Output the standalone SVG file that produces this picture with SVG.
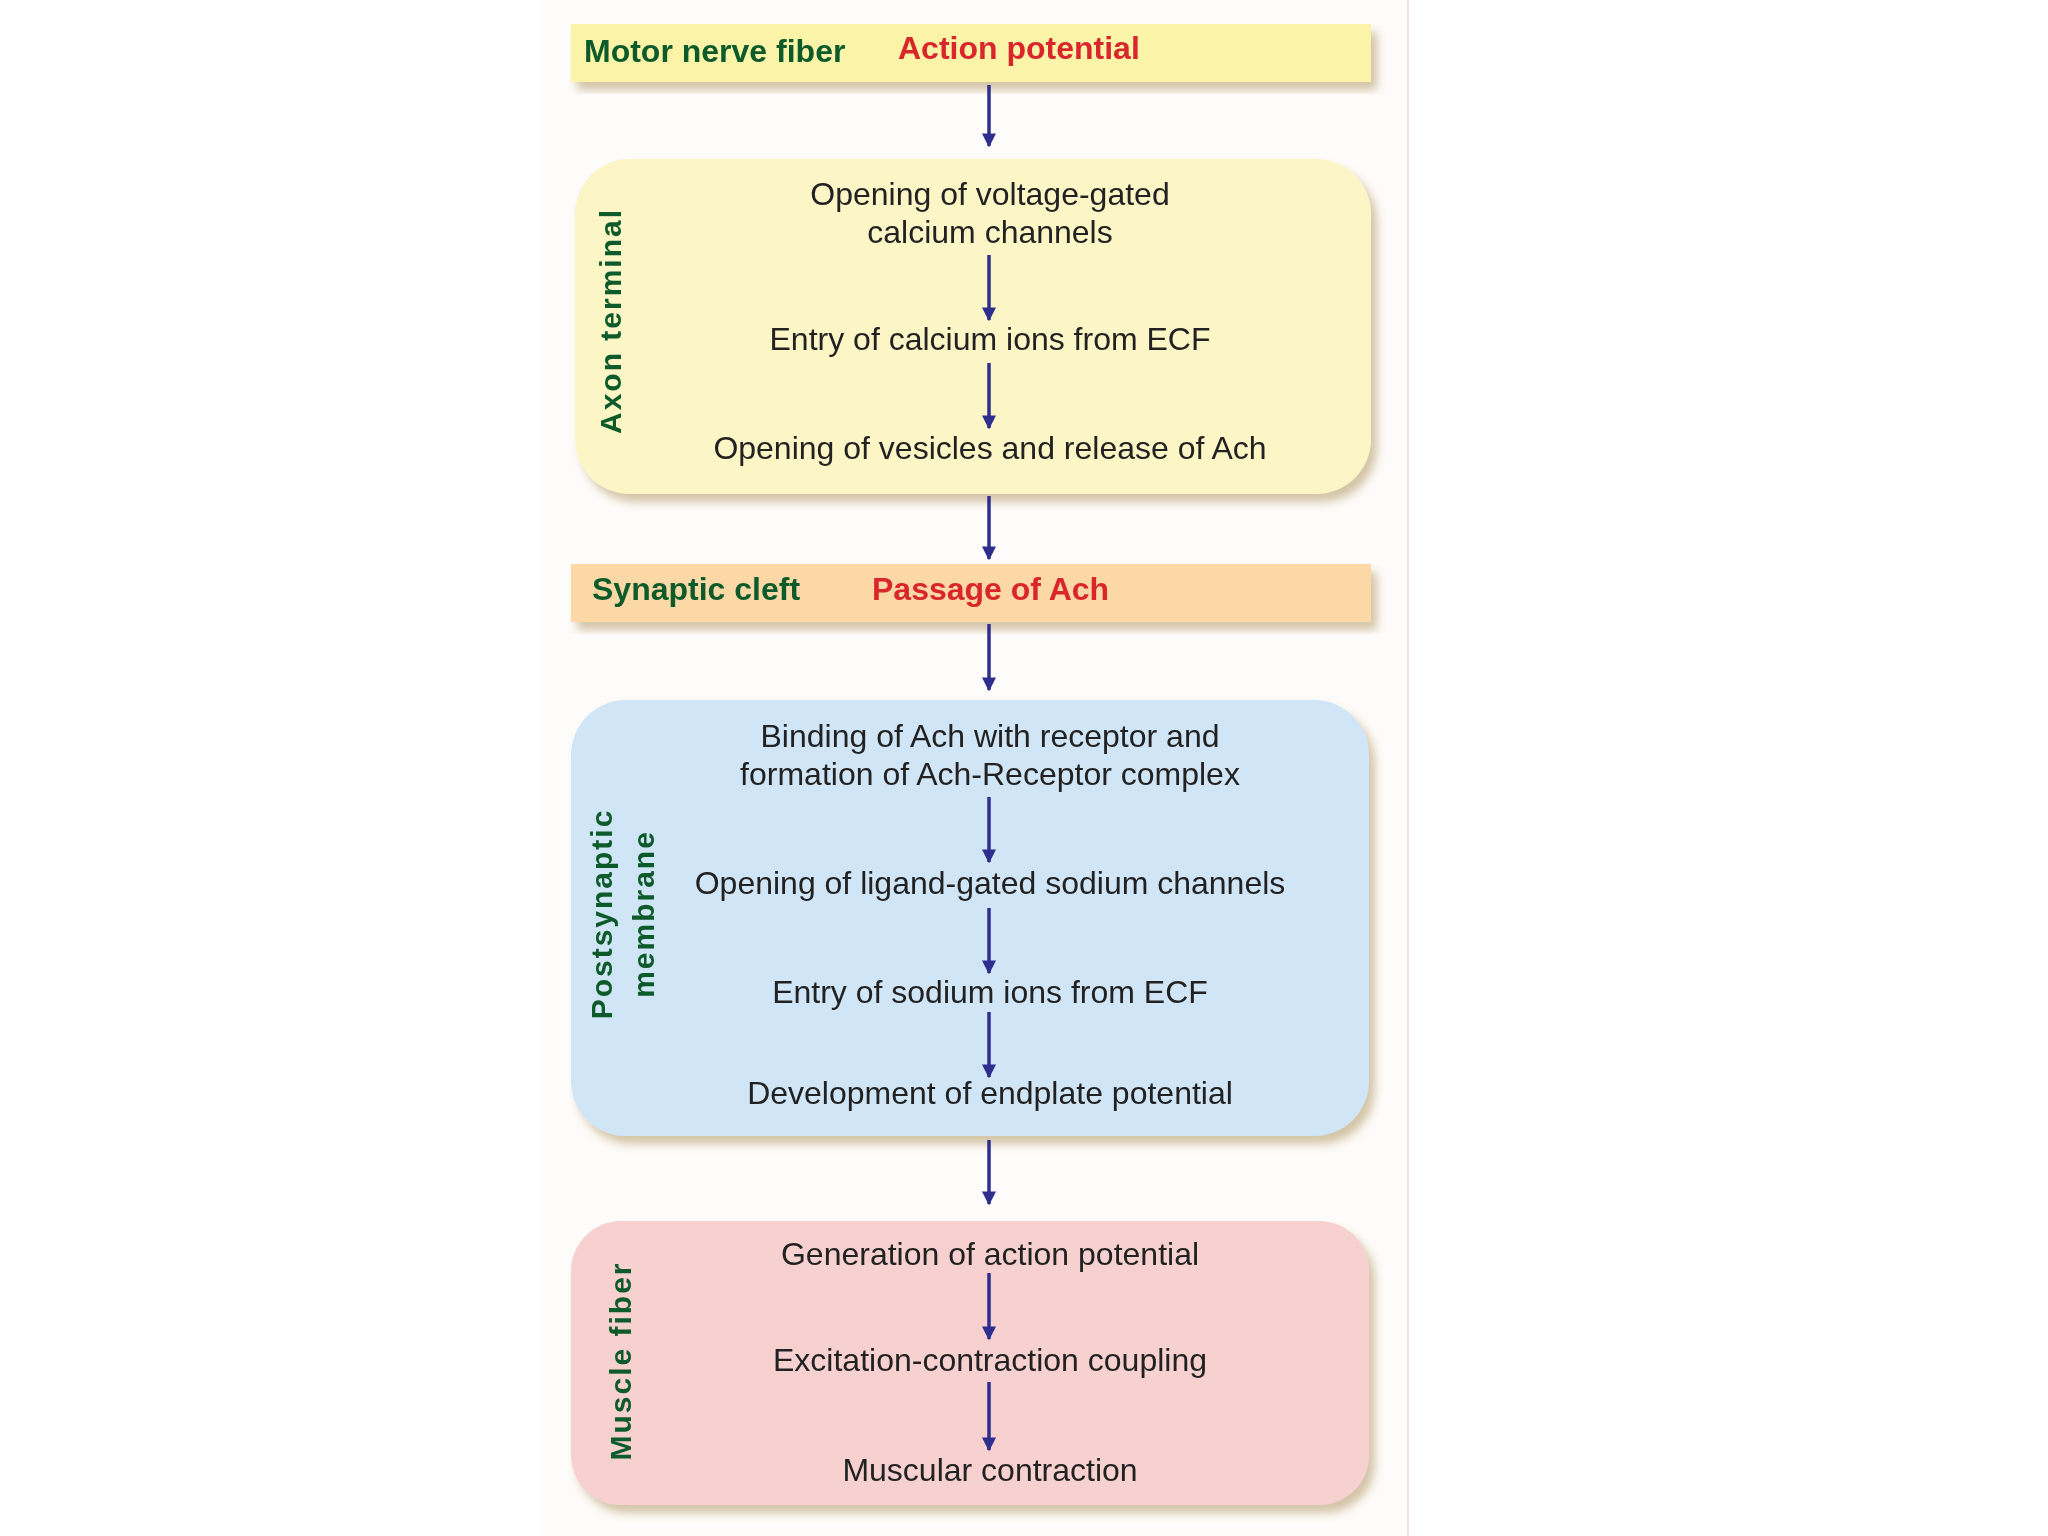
<svg xmlns="http://www.w3.org/2000/svg" width="2048" height="1536" viewBox="0 0 2048 1536">
<defs>
<marker id="ah" viewBox="0 0 10 10" refX="9" refY="5" markerWidth="14" markerHeight="16" orient="auto" markerUnits="userSpaceOnUse"><path d="M0,0 L10,5 L0,10 z" fill="#2e2e8f"/></marker>
<filter id="sh2" x="-10%" y="-10%" width="125%" height="130%"><feGaussianBlur in="SourceAlpha" stdDeviation="5" result="b"/><feOffset in="b" dx="6" dy="8" result="o"/><feFlood flood-color="#a08040" flood-opacity="0.45"/><feComposite in2="o" operator="in"/><feMerge><feMergeNode/><feMergeNode in="SourceGraphic"/></feMerge></filter>
</defs>
<style>
.t{font-family:"Liberation Sans",Arial,sans-serif;font-size:32px;fill:#222;text-anchor:middle}
.g{font-family:"Liberation Sans",Arial,sans-serif;font-size:32px;font-weight:bold;fill:#0f5a2a}
.r{font-family:"Liberation Sans",Arial,sans-serif;font-size:32px;font-weight:bold;fill:#d8262a}
.v{font-family:"Liberation Sans",Arial,sans-serif;font-size:30px;font-weight:bold;fill:#0f5a2a;text-anchor:middle;letter-spacing:2px}
</style>
<rect width="2048" height="1536" fill="#ffffff"/>
<rect x="542" y="0" width="866" height="1536" fill="#fefcfa"/>
<line x1="1408" y1="0" x2="1408" y2="1536" stroke="#f4dede" stroke-width="2"/>
<g id="motor" filter="url(#sh2)">
<rect x="571" y="24" width="800" height="58" fill="#fbf3a8"/>
<text class="g" x="584" y="62">Motor nerve fiber</text>
<text class="r" x="898" y="59">Action potential</text>
</g>
<g id="axon" filter="url(#sh2)">
<rect x="575" y="159" width="796" height="335" rx="55" fill="#fcf6c6"/>
<text class="v" transform="translate(621,321) rotate(-90)">Axon terminal</text>
<text class="t" x="990" y="205">Opening of voltage-gated</text>
<text class="t" x="990" y="243">calcium channels</text>
<text class="t" x="990" y="350">Entry of calcium ions from ECF</text>
<text class="t" x="990" y="459">Opening of vesicles and release of Ach</text>
</g>
<g id="cleft" filter="url(#sh2)">
<rect x="571" y="564" width="800" height="58" fill="#fcd8a6"/>
<text class="g" x="592" y="600">Synaptic cleft</text>
<text class="r" x="872" y="600">Passage of Ach</text>
</g>
<g id="post" filter="url(#sh2)">
<rect x="571" y="700" width="798" height="436" rx="55" fill="#d0e5f6"/>
<text class="v" transform="translate(612,914) rotate(-90)">Postsynaptic</text>
<text class="v" transform="translate(654,914) rotate(-90)">membrane</text>
<text class="t" x="990" y="747">Binding of Ach with receptor and</text>
<text class="t" x="990" y="785">formation of Ach-Receptor complex</text>
<text class="t" x="990" y="894">Opening of ligand-gated sodium channels</text>
<text class="t" x="990" y="1003">Entry of sodium ions from ECF</text>
<text class="t" x="990" y="1104">Development of endplate potential</text>
</g>
<g id="muscle" filter="url(#sh2)">
<rect x="571" y="1221" width="798" height="284" rx="50" fill="#f7d0d0"/>
<text class="v" transform="translate(631,1361) rotate(-90)">Muscle fiber</text>
<text class="t" x="990" y="1265">Generation of action potential</text>
<text class="t" x="990" y="1371">Excitation-contraction coupling</text>
<text class="t" x="990" y="1481">Muscular contraction</text>
</g>
<g id="connectors" stroke="#2e2e8f" stroke-width="3.5" marker-end="url(#ah)">
<line x1="989" y1="85" x2="989" y2="146"/>
<line x1="989" y1="255" x2="989" y2="320"/>
<line x1="989" y1="363" x2="989" y2="428"/>
<line x1="989" y1="496" x2="989" y2="559"/>
<line x1="989" y1="624" x2="989" y2="690"/>
<line x1="989" y1="797" x2="989" y2="862"/>
<line x1="989" y1="908" x2="989" y2="973"/>
<line x1="989" y1="1012" x2="989" y2="1077"/>
<line x1="989" y1="1140" x2="989" y2="1204"/>
<line x1="989" y1="1273" x2="989" y2="1339"/>
<line x1="989" y1="1382" x2="989" y2="1450"/>
</g>
</svg>
